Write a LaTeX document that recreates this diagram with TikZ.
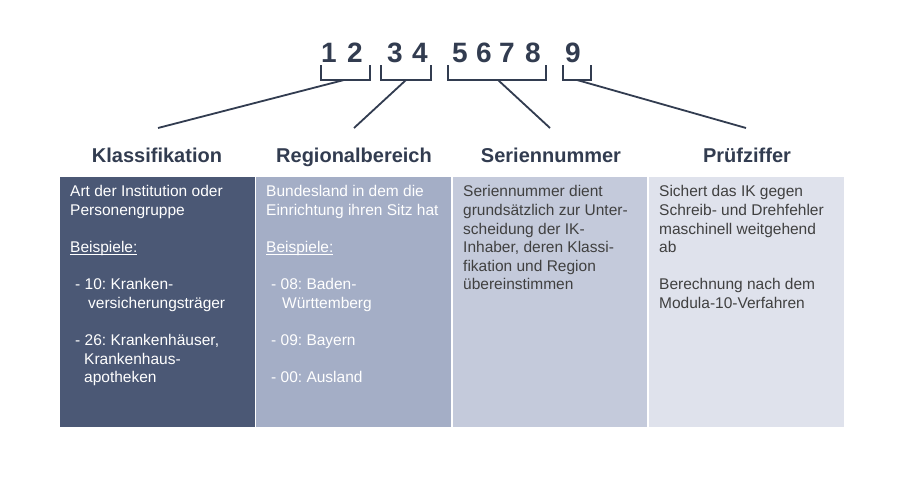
\documentclass[tikz,border=0pt]{standalone}
\usepackage{fontspec}
\setmainfont{Liberation Sans}
\frenchspacing
\definecolor{ink}{HTML}{323C50}
\definecolor{boxA}{HTML}{4B5875}
\definecolor{boxB}{HTML}{A4AEC6}
\definecolor{boxC}{HTML}{C4CADB}
\definecolor{boxD}{HTML}{DFE2EC}
\definecolor{bodytext}{HTML}{404040}
\newcommand{\myul}[1]{\setbox0\hbox{#1}\rlap{\rule[-2.3pt]{\wd0}{0.9pt}}\box0}
\tikzset{
  card/.style={draw=none, minimum width=194.5pt, minimum height=250pt, inner sep=0pt, anchor=north west},
  cardtext/.style={anchor=north west, inner sep=0pt, align=left, font=\fontsize{15.5}{18.6}\selectfont},
  head/.style={font=\fontsize{20}{24}\selectfont\bfseries, text=ink, anchor=base, inner sep=0pt},
  digit/.style={font=\fontsize{28}{30}\selectfont\bfseries, text=ink, anchor=base, inner sep=0pt},
  bracketline/.style={draw=ink, line width=1.8pt},
  link/.style={draw=ink, line width=1.8pt},
}
\begin{document}
\begin{tikzpicture}[x=1pt,y=-1pt]
\path[use as bounding box, fill=white] (0,0) rectangle (901,487);

% digits
\node[digit] (d1) at (329,63) {1};
\node[digit] (d2) at (355,63) {2};
\node[digit] (d3) at (395,63) {3};
\node[digit] (d4) at (420,63) {4};
\node[digit] (d5) at (460,63) {5};
\node[digit] (d6) at (484,63) {6};
\node[digit] (d7) at (507,63) {7};
\node[digit] (d8) at (533,63) {8};
\node[digit] (d9) at (573,63) {9};

% brackets
\draw[bracketline] (321,65) -- (321,80) -- (370,80) -- (370,65);
\draw[bracketline] (381,65) -- (381,80) -- (431,80) -- (431,65);
\draw[bracketline] (448,65) -- (448,80) -- (546,80) -- (546,65);
\draw[bracketline] (563,65) -- (563,80) -- (591,80) -- (591,65);

\coordinate (s1) at (344,80);
\coordinate (s2) at (406,80);
\coordinate (s3) at (498,80);
\coordinate (s4) at (577,80);
\coordinate (e1) at (158,128);
\coordinate (e2) at (354,128);
\coordinate (e3) at (550,128);
\coordinate (e4) at (746,128);
\draw[link] (s1) -- (e1);
\draw[link] (s2) -- (e2);
\draw[link] (s3) -- (e3);
\draw[link] (s4) -- (e4);

% headers
\node[head] (h1) at (157,162) {Klassifikation};
\node[head] (h2) at (354,162) {Regionalbereich};
\node[head] (h3) at (551,162) {Seriennummer};
\node[head] (h4) at (747,162) {Prüfziffer};

% boxes
\node[card, fill=boxA] (b1) at (60,177) {};
\node[card, fill=boxB] (b2) at (256,177) {};
\node[card, fill=boxC] (b3) at (452.5,177) {};
\node[card, fill=boxD] (b4) at (649,177) {};

\node[cardtext, text=white] (t1) at (70,185.5) {Art der Institution oder\\
Personengruppe\\[18.6pt]
\myul{Beispiele:}\\[18.6pt]
\hspace*{5pt}- 10: Kranken-\\
\hspace*{18pt}versicherungsträger\\[18.6pt]
\hspace*{5pt}- 26: Krankenhäuser,\\
\hspace*{14pt}Krankenhaus-\\
\hspace*{14pt}apotheken};

\node[cardtext, text=white] (t2) at (266,185.5) {Bundesland in dem die\\
Einrichtung ihren Sitz hat\\[18.6pt]
\myul{Beispiele:}\\[18.6pt]
\hspace*{5pt}- 08: Baden-\\
\hspace*{16pt}Württemberg\\[18.6pt]
\hspace*{5pt}- 09: Bayern\\[18.6pt]
\hspace*{5pt}- 00: Ausland};

\node[cardtext, text=bodytext] (t3) at (463,185.5) {Seriennummer dient\\
grundsätzlich zur Unter-\\
scheidung der IK-\\
Inhaber, deren Klassi-\\
fikation und Region\\
übereinstimmen};

\node[cardtext, text=bodytext] (t4) at (659,185.5) {Sichert das IK gegen\\
Schreib- und Drehfehler\\
maschinell weitgehend\\
ab\\[18.6pt]
Berechnung nach dem\\
Modula-10-Verfahren};
\end{tikzpicture}
\end{document}
